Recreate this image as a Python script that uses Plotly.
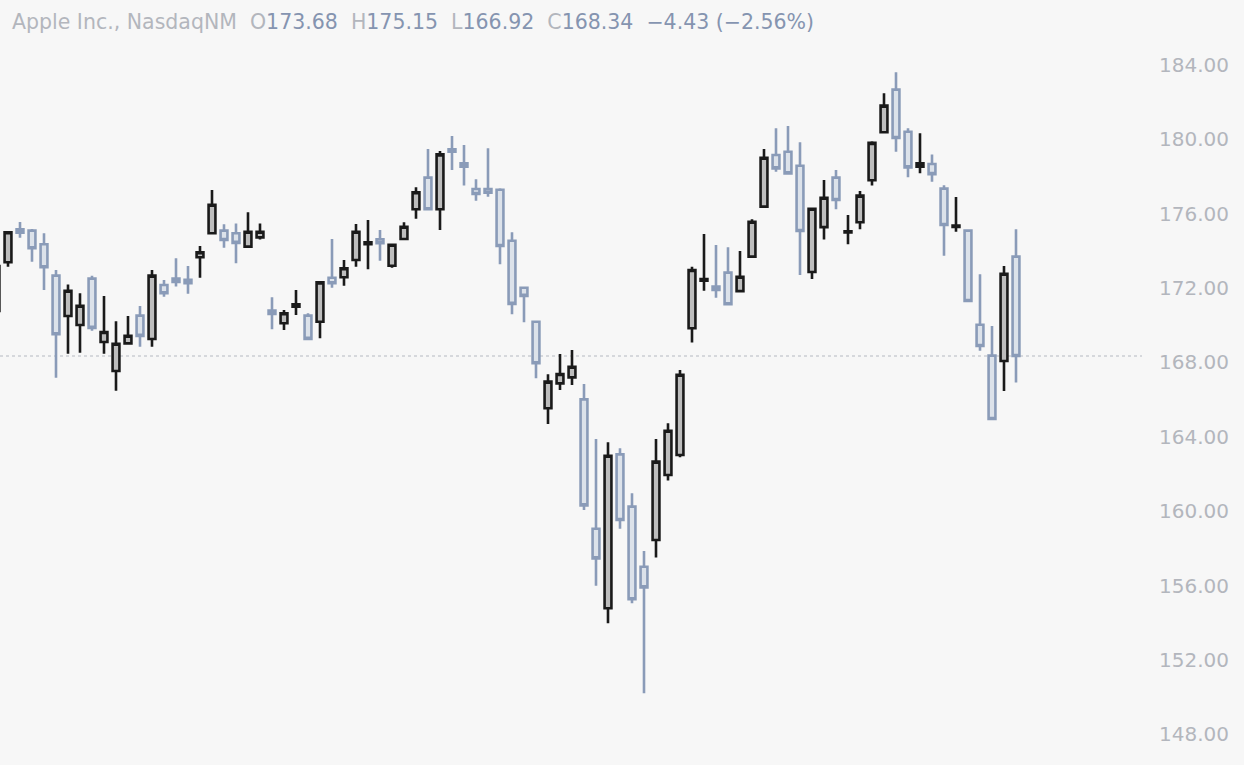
import plotly.graph_objects as go

# Candle values (oldest -> newest)
opens = [170.76, 173.38, 175.15, 175.08, 174.35, 172.66, 170.49, 170.01, 172.50, 169.09,
         167.53, 169.02, 170.51, 169.25, 172.16, 172.50, 172.43, 173.65, 174.94, 175.08,
         174.94, 174.22, 174.72, 170.78, 170.10, 170.99, 170.51, 170.18, 172.55, 172.57,
         173.50, 174.35, 174.61, 173.19, 174.63, 176.23, 177.93, 176.23, 179.45, 178.70,
         177.32, 177.32, 177.28, 174.54, 172.01, 170.18, 165.53, 166.87, 167.19, 166.01,
         159.05, 154.78, 163.05, 160.24, 157.01, 158.45, 161.94, 163.02, 169.83, 172.39,
         172.07, 172.82, 171.83, 173.68, 176.37, 179.15, 179.32, 178.57, 172.86, 175.27,
         177.93, 174.98, 175.53, 177.79, 180.37, 182.66, 180.40, 178.52, 178.66, 177.34,
         175.28, 175.08, 170.02, 168.36, 168.07, 173.68]
highs = [173.30, 175.06, 175.54, 175.17, 174.94, 172.96, 172.19, 171.71, 172.66, 171.57,
         170.21, 170.49, 171.03, 172.96, 172.43, 173.59, 173.18, 174.25, 177.26, 175.42,
         175.47, 176.07, 175.47, 171.50, 170.81, 171.89, 170.64, 172.37, 174.63, 173.50,
         175.44, 175.65, 175.11, 174.34, 175.53, 177.41, 179.47, 179.36, 180.17, 179.68,
         177.84, 179.51, 177.36, 174.99, 172.03, 170.20, 167.36, 168.45, 168.66, 166.83,
         163.88, 163.70, 163.38, 160.96, 157.86, 163.88, 164.72, 167.59, 173.14, 174.90,
         174.31, 174.18, 173.99, 175.69, 179.47, 180.58, 180.70, 179.83, 176.33, 177.80,
         178.34, 175.92, 177.21, 179.88, 182.46, 183.59, 180.58, 180.31, 179.18, 177.52,
         176.89, 175.15, 172.73, 169.95, 173.18, 175.15]
lows = [170.60, 173.14, 174.70, 173.41, 171.89, 167.17, 168.46, 168.52, 169.70, 168.46,
        166.47, 168.95, 168.84, 168.84, 171.53, 172.07, 171.69, 172.55, 174.90, 174.16,
        173.32, 174.16, 174.61, 169.78, 169.74, 170.54, 169.24, 169.29, 172.01, 172.12,
        173.14, 173.00, 173.46, 173.09, 174.61, 175.72, 176.21, 175.11, 178.34, 177.50,
        176.69, 176.90, 173.27, 170.58, 170.15, 167.14, 164.68, 166.51, 166.78, 160.06,
        155.99, 153.97, 159.05, 155.04, 150.21, 157.50, 161.64, 162.89, 169.06, 171.85,
        171.47, 171.08, 171.81, 173.65, 176.33, 178.25, 178.14, 172.70, 172.48, 174.61,
        176.23, 174.35, 175.15, 177.50, 180.31, 179.32, 177.95, 178.16, 177.71, 173.73,
        175.02, 171.28, 168.62, 164.93, 166.46, 166.92]
closes = [173.18, 174.99, 174.97, 174.13, 173.11, 169.51, 171.85, 171.04, 169.85, 169.63,
          169.00, 169.43, 169.42, 172.66, 171.71, 172.32, 172.25, 173.92, 176.47, 174.58,
          174.42, 175.02, 175.02, 170.60, 170.64, 171.12, 169.26, 172.30, 172.25, 173.06,
          175.02, 174.45, 174.40, 174.32, 175.29, 177.14, 176.23, 179.18, 179.32, 178.52,
          177.05, 177.12, 174.25, 171.14, 171.57, 167.95, 166.96, 167.37, 167.76, 160.31,
          157.46, 162.98, 159.52, 155.26, 155.90, 162.66, 164.32, 167.33, 172.96, 172.48,
          171.89, 171.12, 172.60, 175.56, 179.00, 178.43, 178.16, 175.06, 176.26, 176.85,
          176.73, 175.05, 176.96, 179.80, 181.80, 180.06, 178.48, 178.70, 178.12, 175.38,
          175.36, 171.30, 168.88, 164.95, 172.76, 168.34]
bar_index = list(range(len(opens)))

y_ticks = [148, 152, 156, 160, 164, 168, 172, 176, 180, 184]
y_tick_labels = [f"{v:.2f}" for v in y_ticks]

symbol_name = "Apple Inc., NasdaqNM"
last_open, last_high, last_low, last_close = 173.68, 175.15, 166.92, 168.34
change_text = "−4.43 (−2.56%)"

BG = "#f7f7f7"
GRAY = "#b3b6bd"
VAL = "#8594b0"
FONT = "DejaVu Sans"

fig = go.Figure()
fig.add_trace(go.Candlestick(
    x=bar_index, open=opens, high=highs, low=lows, close=closes,
    increasing=dict(fillcolor="#bdbdbd", line=dict(color="#1a1a1a", width=2.6)),
    decreasing=dict(fillcolor="#dce2ea", line=dict(color="#8a9bb8", width=2.6)),
    whiskerwidth=0,
    showlegend=False,
    hoverinfo="skip",
))

fig.add_shape(type="line", xref="paper", x0=0, x1=1, yref="y", y0=last_close, y1=last_close,
              line=dict(color="#d6d8dc", width=2, dash="dot"), layer="below")

sp = "\u00a0\u00a0"
title = (f"<span style='color:{GRAY}'>{symbol_name}</span>{sp}"
         f"<span style='color:{GRAY}'>O</span><span style='color:{VAL}'>{last_open:.2f}</span>{sp}"
         f"<span style='color:{GRAY}'>H</span><span style='color:{VAL}'>{last_high:.2f}</span>{sp}"
         f"<span style='color:{GRAY}'>L</span><span style='color:{VAL}'>{last_low:.2f}</span>{sp}"
         f"<span style='color:{GRAY}'>C</span><span style='color:{VAL}'>{last_close:.2f}</span>{sp}"
         f"<span style='color:{VAL}'>{change_text}</span>")

W, H = 1244, 765
plot_w = 1142
fig.add_annotation(text=title, xref="paper", yref="paper", x=10 / plot_w, y=1 - 22 / H,
                   xanchor="left", yanchor="middle", showarrow=False,
                   font=dict(family=FONT, size=20.5, color=VAL))

fig.add_annotation(text="188.00", xref="paper", yref="y", x=1, y=188, xanchor="left",
                   xshift=14, yanchor="middle", showarrow=False,
                   font=dict(family=FONT, size=20, color=GRAY))

px_per_bar = 12
x0 = 4 / px_per_bar
fig.update_layout(
    width=W, height=H,
    paper_bgcolor=BG, plot_bgcolor=BG,
    margin=dict(l=0, r=W - plot_w, t=0, b=0, pad=0),
    boxgap=0.43, boxgroupgap=0,
    xaxis=dict(range=[x0, x0 + plot_w / px_per_bar], visible=False,
               rangeslider=dict(visible=False), fixedrange=True),
    yaxis=dict(range=[146.35, 187.48], side="right", tickvals=y_ticks, ticktext=y_tick_labels,
               showgrid=False, zeroline=False, showline=False, ticks="",
               ticklabelstandoff=16, automargin=False, fixedrange=True,
               tickfont=dict(family=FONT, size=20, color=GRAY)),
    font=dict(family=FONT),
    hovermode=False,
)

fig.write_html("out.html", config={"displayModeBar": False, "staticPlot": True},
               post_script="document.body.style.margin='0';document.body.style.background='#f7f7f7';")
